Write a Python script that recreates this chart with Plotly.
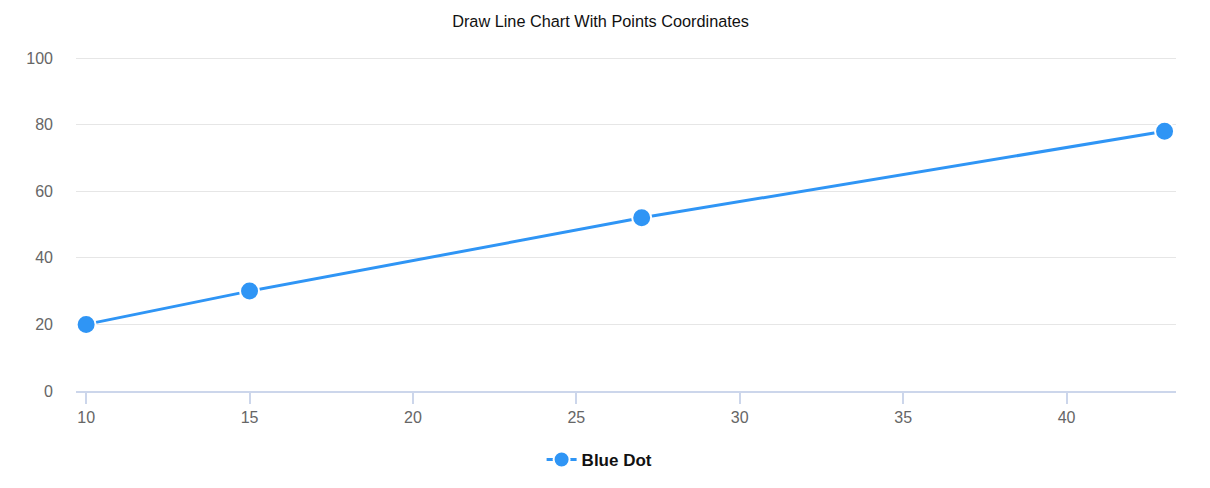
import plotly.graph_objects as go

x_vals = [10, 15, 27, 43]
y_vals = [20, 30, 52, 78]
series_name = "Blue Dot"
title_text = "Draw Line Chart With Points Coordinates"
x_ticks = [10, 15, 20, 25, 30, 35, 40]
y_ticks = [0, 20, 40, 60, 80, 100]

color = "#2f95f5"

fig = go.Figure()
fig.add_trace(go.Scatter(
    x=x_vals, y=y_vals, name=series_name, mode="lines+markers",
    line=dict(color=color, width=3),
    marker=dict(size=19, color=color, line=dict(color="white", width=2)),
    cliponaxis=False,
))

fig.update_layout(
    width=1202, height=480,
    paper_bgcolor="white", plot_bgcolor="white",
    margin=dict(l=68, r=34, t=48, b=97, autoexpand=False),
    font=dict(family="Liberation Sans, Arial, sans-serif"),
    title=dict(text=title_text, x=0.493, xanchor="center", y=1 - 13 / 480, yanchor="middle",
               font=dict(size=16.3, color="#111111")),
    showlegend=True,
    legend=dict(orientation="h", x=0.476, xanchor="center", y=-(69) / 335, yanchor="middle",
                font=dict(size=17, color="#111111", weight="bold",
                          family="Liberation Sans, Arial, sans-serif"),
                itemwidth=30),
    xaxis=dict(range=[9.69, 43.35], tickvals=x_ticks, showgrid=False, zeroline=False,
               showline=True, linecolor="#ccd6eb", linewidth=1.5,
               ticks="outside", ticklen=11, tickcolor="#ccd6eb", tickwidth=1.5,
               tickfont=dict(size=16, color="#666666")),
    yaxis=dict(range=[0, 100.6], tickvals=y_ticks, showgrid=True, gridcolor="#e6e6e6",
               gridwidth=1, zeroline=False, showline=False,
               ticks="", ticklabelstandoff=22,
               tickfont=dict(size=16, color="#666666")),
)

fig.write_html("out.html")
